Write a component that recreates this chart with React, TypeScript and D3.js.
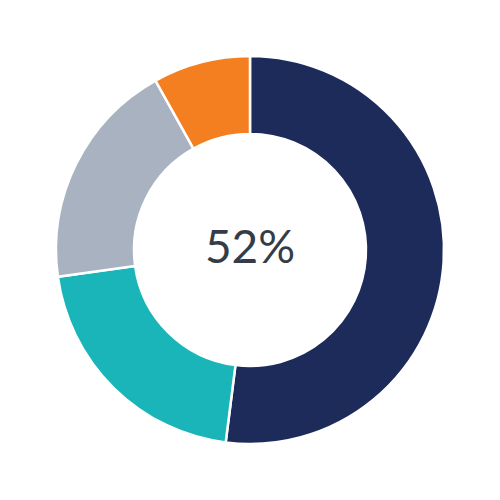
import React, { useEffect, useRef } from 'react';
import * as d3 from 'd3';

const labels = ['Navy', 'Teal', 'Gray', 'Orange'];
const values = [52, 20.8, 19.1, 8.1];
const colors = ['#1c2b5a', '#1ab5b8', '#a8b2c1', '#f47f20'];
const centerLabel = '52%';

const App: React.FC = () => {
  const svgRef = useRef<SVGSVGElement>(null);

  useEffect(() => {
    if (!svgRef.current) return;
    const width = 500;
    const height = 500;
    const svg = d3.select(svgRef.current);
    svg.selectAll('*').remove();

    const g = svg.append('g').attr('transform', `translate(${width / 2},${height / 2})`);

    const pie = d3.pie<number>().sort(null).value(d => d);
    const arc = d3.arc<d3.PieArcDatum<number>>().innerRadius(116).outerRadius(194);

    g.selectAll('.slice')
      .data(pie(values))
      .enter()
      .append('path')
      .attr('class', 'slice')
      .attr('d', arc)
      .attr('fill', (_, i) => colors[i])
      .attr('stroke', '#fff')
      .attr('stroke-width', 2.5)
      .append('title')
      .text((d, i) => `${labels[i]}: ${d.data}%`);

    g.append('text')
      .attr('y', 13)
      .attr('text-anchor', 'middle')
      .style('font-family', 'Lato, sans-serif')
      .style('font-weight', '400')
      .style('font-size', '46px')
      .attr('fill', '#343d47')
      .text(centerLabel);
  }, []);

  return (
    <svg
      ref={svgRef}
      width={500}
      height={500}
      viewBox="0 0 500 500"
      style={{ position: 'absolute', left: 0, top: 0, background: '#fff' }}
    />
  );
};

export default App;
